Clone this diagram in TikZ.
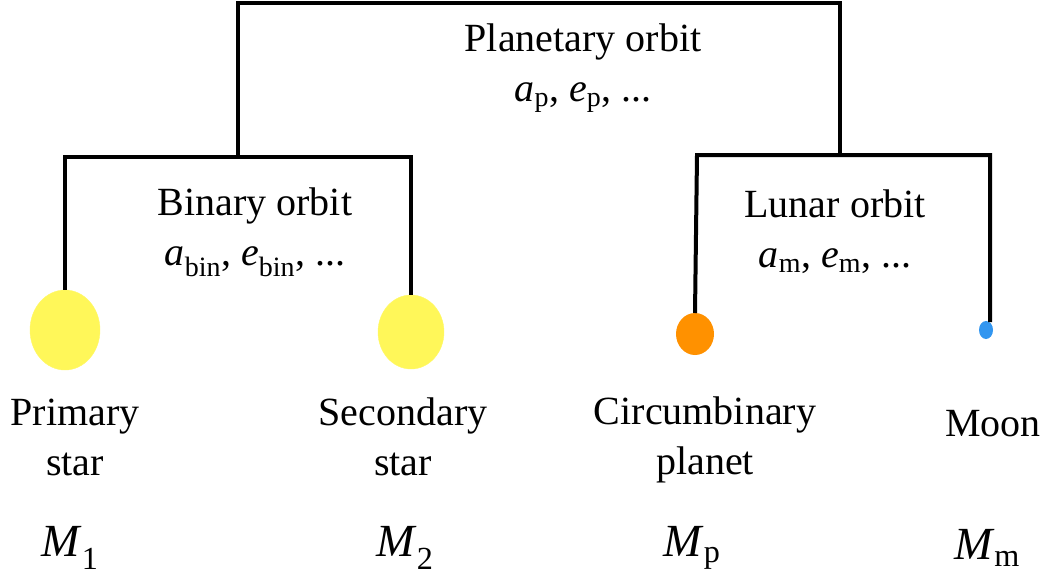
\documentclass[tikz,border=0pt]{standalone}
\usepackage{fontspec}
\usetikzlibrary{shapes.geometric}
\setmainfont{Liberation Serif}
\newcommand{\vs}[2]{\textit{#1}\textsubscript{#2}}
\begin{document}
\begin{tikzpicture}[x=1pt,y=-1pt,
  bar/.style={line width=4pt,line join=miter},
  lbl/.style={font=\fontsize{40}{50}\selectfont,align=center,inner sep=0},
  ms/.style={font=\fontsize{46}{50}\selectfont,inner sep=0}]
\useasboundingbox (0,0) rectangle (1048,578);
\node[ellipse,draw=yellow!60!white,fill=yellow!65!white,minimum width=70pt,minimum height=80pt,inner sep=0] (s1) at (65,330) {};
\node[ellipse,draw=yellow!60!white,fill=yellow!65!white,minimum width=66pt,minimum height=74pt,inner sep=0] (s2) at (411,332) {};
\node[ellipse,fill={rgb,255:red,255;green,145;blue,0},minimum width=38pt,minimum height=42pt,inner sep=0] (pl) at (695,334) {};
\node[ellipse,fill={rgb,255:red,50;green,150;blue,240},minimum width=14pt,minimum height=18pt,inner sep=0] (mo) at (986,330) {};
\coordinate (t1) at (238,3); \coordinate (t2) at (840,3);
\coordinate (b1) at (65,157); \coordinate (b2) at (411,157);
\coordinate (l1) at (697,155); \coordinate (l2) at (990,155);
\draw[bar] (s1.north) -- (b1) -- (b2) -- (s2.north);
\draw[bar] (238,157) -- (t1) -- (t2) -- (840,155);
\draw[bar] (695,313) -- (l1) -- (l2) -- (990,322);
\node[lbl] (po) at (583,68) {Planetary orbit\\ \vs{a}{p}, \vs{e}{p}, ...};
\node[lbl] (bo) at (255,232) {Binary orbit\\ \vs{a}{bin}, \vs{e}{bin}, ...};
\node[lbl] (lo) at (835,232) {Lunar orbit\\ \vs{a}{m}, \vs{e}{m}, ...};
\node[lbl] (n1) at (75,437) {Primary\\star};
\node[lbl] (n2) at (403,437) {Secondary\\star};
\node[lbl] (n3) at (705,440) {Circumbinary\\planet};
\node[lbl] (n4) at (993,424) {Moon};
\node[ms] (m1) at (70,548) {\vs{M}{1}};
\node[ms] (m2) at (405,548) {\vs{M}{2}};
\node[ms] (m3) at (692,548) {\vs{M}{p}};
\node[ms] (m4) at (987,548) {\vs{M}{m}};
\end{tikzpicture}
\end{document}
